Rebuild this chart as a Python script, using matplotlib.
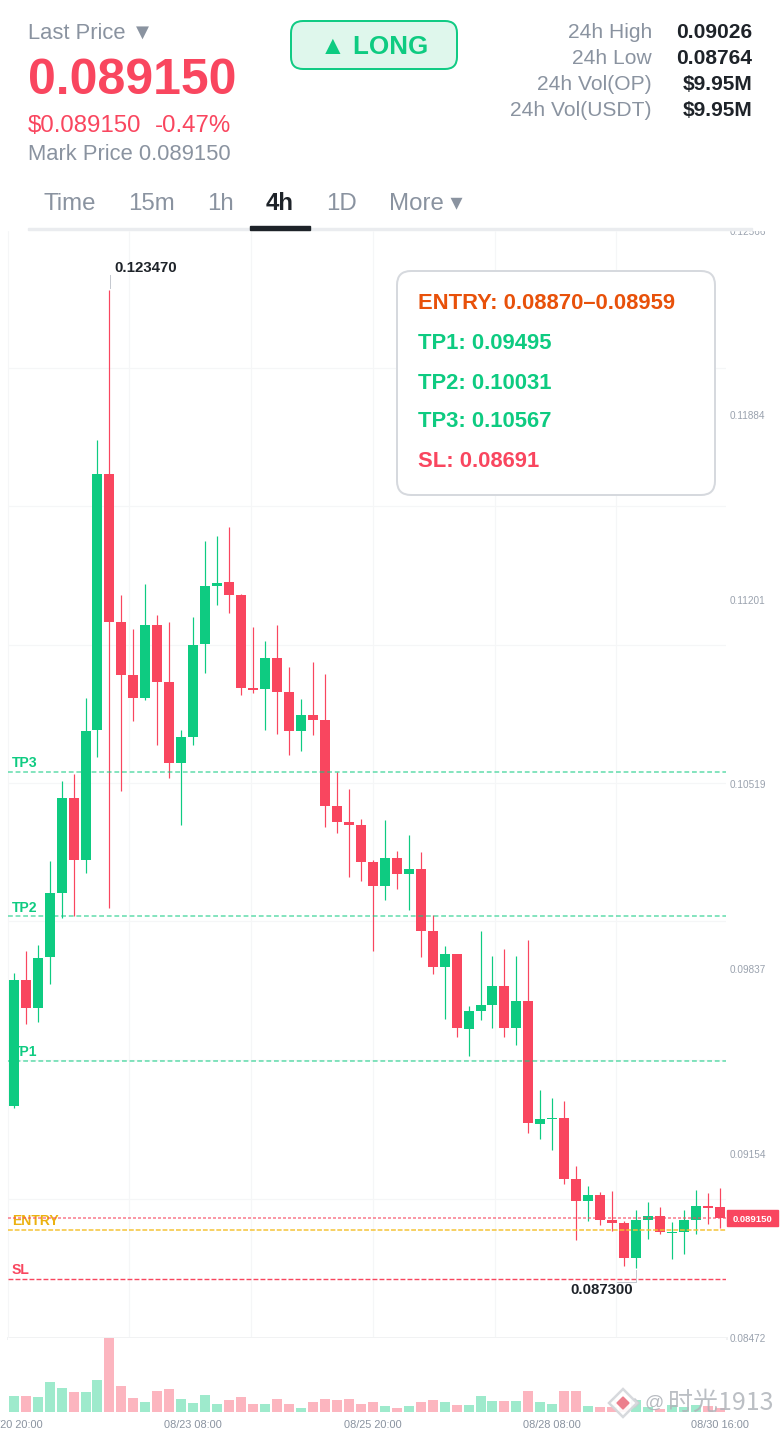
import matplotlib
matplotlib.use('Agg')
import matplotlib.pyplot as plt
from matplotlib.patches import FancyBboxPatch, Rectangle, Polygon
import numpy as np

plt.rcParams['font.family'] = ['Liberation Sans', 'Noto Sans CJK SC', 'DejaVu Sans']

# ohlc, one entry per 4h candle
opens = [0.093311, 0.097960, 0.096935, 0.098811, 0.101188, 0.104691, 0.102398, 0.107205, 0.116673, 0.111210,
         0.109240, 0.108400, 0.111088, 0.108981, 0.105986, 0.106935, 0.110385, 0.112531, 0.112679, 0.112198,
         0.108759, 0.108711, 0.109869, 0.108600, 0.107168, 0.107760, 0.107575, 0.104384, 0.103815, 0.103704,
         0.102335, 0.101447, 0.102461, 0.101891, 0.102054, 0.099760, 0.098441, 0.098922, 0.096158, 0.096813,
         0.097046, 0.097738, 0.096195, 0.097183, 0.092634, 0.092818, 0.092844, 0.090603, 0.089775, 0.090008,
         0.089084, 0.088973, 0.087690, 0.089084, 0.089243, 0.088603, 0.088651, 0.089095, 0.089590, 0.089564]
closes = [0.097960, 0.096935, 0.098785, 0.101188, 0.104691, 0.102398, 0.107168, 0.116673, 0.111210, 0.109240,
          0.108400, 0.111088, 0.108981, 0.105986, 0.106935, 0.110348, 0.112531, 0.112642, 0.112209, 0.108759,
          0.108703, 0.109869, 0.108600, 0.107168, 0.107760, 0.107575, 0.104384, 0.103815, 0.103704, 0.102335,
          0.101447, 0.102461, 0.101891, 0.102054, 0.099760, 0.098441, 0.098922, 0.096173, 0.096802, 0.097035,
          0.097738, 0.096195, 0.097183, 0.092660, 0.092808, 0.092844, 0.090614, 0.089775, 0.090008, 0.089084,
          0.088973, 0.087690, 0.089084, 0.089232, 0.088651, 0.088640, 0.089084, 0.089590, 0.089546, 0.089150]
highs = [0.098219, 0.099044, 0.099266, 0.102361, 0.105320, 0.105579, 0.108400, 0.117931, 0.123470, 0.112198,
         0.110951, 0.112616, 0.111458, 0.111210, 0.107205, 0.111395, 0.114195, 0.114381, 0.114714, 0.112235,
         0.111025, 0.110509, 0.111088, 0.109536, 0.108352, 0.109721, 0.109288, 0.105653, 0.105024, 0.103903,
         0.102398, 0.103889, 0.102731, 0.103309, 0.102705, 0.100363, 0.099218, 0.098922, 0.096998, 0.099760,
         0.098836, 0.099107, 0.098859, 0.099427, 0.093892, 0.093607, 0.093496, 0.091096, 0.090341, 0.090119,
         0.090156, 0.089036, 0.089443, 0.089749, 0.089553, 0.089010, 0.089454, 0.090193, 0.090079, 0.090267]
lows = [0.093226, 0.096343, 0.096406, 0.097812, 0.100252, 0.100326, 0.101917, 0.106219, 0.100622, 0.104961,
        0.107538, 0.108315, 0.106650, 0.105431, 0.103692, 0.106650, 0.109314, 0.111839, 0.111543, 0.108511,
        0.108585, 0.107205, 0.107067, 0.106293, 0.106415, 0.107030, 0.103618, 0.103396, 0.101776, 0.101632,
        0.099033, 0.100929, 0.101336, 0.100559, 0.098822, 0.098193, 0.096517, 0.095851, 0.095137, 0.096480,
        0.096195, 0.095862, 0.095566, 0.092301, 0.092069, 0.091674, 0.090425, 0.088346, 0.089061, 0.088888,
        0.088688, 0.087370, 0.087300, 0.088372, 0.088566, 0.087653, 0.087845, 0.088566, 0.088936, 0.088776]
volumes = [15.7, 16, 15, 29.7, 23.7, 20.3, 20, 32, 73.7, 26,
           14, 10, 21, 22.7, 12.7, 9, 17.3, 7.7, 12, 14.7,
           8, 8, 13.3, 8.3, 4.3, 9.7, 13, 11.7, 13.3, 7.7,
           10.3, 6.3, 3.7, 5.7, 10.3, 12, 9.7, 7, 7, 16,
           11, 10.7, 11, 20.7, 10.3, 8.3, 20.7, 21, 5.7, 4.7,
           5.3, 11, 12, 5, 3, 6.7, 5, 6.7, 6, 4]

price_ticks = [0.12566, 0.11884, 0.11201, 0.10519, 0.09837, 0.09154, 0.08472]
grid_prices = [0.120594, 0.115489, 0.110348, 0.105246, 0.100141, 0.095000, 0.089860]
date_idx = [0, 15, 30, 45, 59]
date_labels = ['08/20 20:00', '08/23 08:00', '08/25 20:00', '08/28 08:00', '08/30 16:00']
grid_idx = [9.67, 19.83, 30.0, 40.17, 50.33]

tp1, tp2, tp3 = 0.09495, 0.10031, 0.10567
entry_low = 0.08870
stop = 0.08691
last = 0.08915

stats_names = ['24h High', '24h Low', '24h Vol(OP)', '24h Vol(USDT)']
stats_values = ['0.09026', '0.08764', '$9.95M', '$9.95M']
tabs = ['Time', '15m', '1h', '4h', '1D', 'More ▾']

GREEN = '#0ECB81'
RED = '#F9465F'
GREY = '#8A93A0'
DARK = '#1E2329'
GRID = '#F5F6F7'

W, H = 780, 1430
fig = plt.figure(figsize=(W / 100, H / 100), dpi=100)


def px_axes(x0, y0, x1, y1):
    return fig.add_axes([x0 / W, 1 - y1 / H, (x1 - x0) / W, (y1 - y0) / H])


def pt(px):
    return px * 0.72


x = np.arange(len(opens))
up = np.array(closes) >= np.array(opens)
colors = [GREEN if u else RED for u in up]

# price pane
ax = px_axes(8, 231, 726, 1338)
ax.set_xlim(-0.476, 59.51)
ax.set_ylim(0.08472, 0.12566)
for s in ax.spines.values():
    s.set_visible(False)
ax.spines['left'].set_visible(True)
ax.spines['left'].set_color(GRID)
ax.hlines(grid_prices, -0.476, 59.51, color=GRID, lw=pt(1.2), zorder=0)
ax.vlines(grid_idx, 0.08472, 0.12566, color=GRID, lw=pt(1.2), zorder=0)
ax.axhline(0.08472, color='#F1F2F3', lw=pt(3), zorder=0, clip_on=False)

for lvl, name, c in [(tp3, 'TP3', GREEN), (tp2, 'TP2', GREEN), (tp1, 'TP1', GREEN),
                     (entry_low, 'ENTRY', '#EBB110'), (stop, 'SL', RED)]:
    ax.text(-0.15, lvl + 0.00033, name, color=c, fontsize=pt(14), fontweight='bold', va='center', zorder=1)

ax.vlines(x, lows, highs, color=colors, lw=pt(1.2), zorder=2)
bottoms = np.minimum(opens, closes)
heights = np.maximum(np.abs(np.array(closes) - np.array(opens)), 0.00004)
ax.bar(x, heights, bottom=bottoms, width=0.835, color=colors, linewidth=0, zorder=3)

for lvl in [tp1, tp2, tp3]:
    ax.axhline(lvl, color=GREEN, alpha=0.5, lw=pt(2), ls=(0, (2.4, 1.4)), zorder=4)
ax.axhline(entry_low, color='#F5C02C', lw=pt(1.6), alpha=0.9, ls=(0, (3, 1.2)), zorder=4)
ax.axhline(last, color=RED, alpha=0.55, lw=pt(2), ls=(0, (1.5, 1)), zorder=4)
ax.axhline(stop, color='#F9465F', lw=pt(1.4), ls=(0, (3.5, 1.5)), zorder=4)

ax.yaxis.tick_right()
ax.set_yticks(price_ticks)
ax.set_yticklabels(['%.5f' % p for p in price_ticks], fontsize=pt(10), color='#9AA2AE')
ax.tick_params(axis='y', length=0, pad=pt(4))
ax.set_xticks([])

# volume pane
vax = px_axes(8, 1338, 726, 1412)
vax.set_xlim(-0.476, 59.51)
vax.set_ylim(0, 74)
vax.bar(x, volumes, width=0.835, color=colors, alpha=0.4, linewidth=0)
for s in vax.spines.values():
    s.set_visible(False)
vax.set_yticks([])
vax.set_xticks(date_idx)
vax.set_xticklabels(date_labels, fontsize=pt(11), color=GREY)
vax.tick_params(axis='x', length=0, pad=pt(7.5))

# everything in screen pixels goes on this one
top = fig.add_axes([0, 0, 1, 1], zorder=5)
top.set_xlim(0, W)
top.set_ylim(H, 0)
top.axis('off')
top.add_patch(Rectangle((0, 0), W, 229.5, color='white', zorder=0))

top.text(28, 31, 'Last Price ▼', color=GREY, fontsize=pt(22), va='center_baseline')
top.text(28, 76, '0.089150', color=RED, fontsize=pt(50), fontweight='bold', va='center_baseline')
top.text(28, 124, '$0.089150', color=RED, fontsize=pt(24), va='center_baseline')
top.text(155, 124, '-0.47%', color=RED, fontsize=pt(24), va='center_baseline')
top.text(28, 152, 'Mark Price 0.089150', color=GREY, fontsize=pt(22), va='center_baseline')

top.add_patch(FancyBboxPatch((291, 21), 166, 48, boxstyle='round,pad=0,rounding_size=12',
                             facecolor='#DFF7EC', edgecolor='#12CB84', lw=pt(2)))
top.text(374, 45, '▲ LONG', color=GREEN, fontsize=pt(26), fontweight='bold', ha='center', va='center_baseline')

for i, yy in enumerate([31, 57, 83, 109]):
    top.text(652, yy, stats_names[i], color=GREY, fontsize=pt(21), ha='right', va='center_baseline')
    top.text(752, yy, stats_values[i], color=DARK, fontsize=pt(21), fontweight='bold', ha='right', va='center_baseline')

for label, xx in zip(tabs, [44, 128, 207, 266, 326, 389]):
    active = label == '4h'
    top.text(xx, 210.5, label, color=DARK if active else GREY, fontsize=pt(24),
             fontweight='bold' if active else 'normal', va='baseline')
top.add_patch(Rectangle((28, 228), 724, 2, color='#EAECEF'))
top.add_patch(Rectangle((250, 226), 60, 4, color=DARK))

# high/low markers
top.text(114, 266, '0.123470', color=DARK, fontsize=pt(15), fontweight='bold', va='center_baseline')
top.plot([110, 110], [275, 288], color='#C5C9D0', lw=pt(1))
top.text(570, 1289, '0.087300', color=DARK, fontsize=pt(15), fontweight='bold', va='center_baseline')
top.plot([636, 636, 617], [1270, 1282, 1282], color='#C5C9D0', lw=pt(1))

# last price tag
top.add_patch(Rectangle((727, 1210), 51, 16, color=RED))
top.text(752.5, 1219, '0.089150', color='white', fontsize=pt(9.5), fontweight='bold', ha='center', va='center_baseline')

# signal box
top.add_patch(FancyBboxPatch((397, 271), 318, 224, boxstyle='round,pad=0,rounding_size=14',
                             facecolor='white', edgecolor='#D6D9DE', lw=pt(2)))
top.text(418, 301, 'ENTRY: 0.08870–0.08959', color='#E8510A', fontsize=pt(22), fontweight='bold', va='center_baseline')
top.text(418, 341, 'TP1: 0.09495', color=GREEN, fontsize=pt(22), fontweight='bold', va='center_baseline')
top.text(418, 381, 'TP2: 0.10031', color=GREEN, fontsize=pt(22), fontweight='bold', va='center_baseline')
top.text(418, 419, 'TP3: 0.10567', color=GREEN, fontsize=pt(22), fontweight='bold', va='center_baseline')
top.text(418, 459, 'SL: 0.08691', color=RED, fontsize=pt(22), fontweight='bold', va='center_baseline')

# watermark
for cx, r in [(613, 4), (635, 4)]:
    top.add_patch(Polygon([(cx, 1403 - r), (cx + r, 1403), (cx, 1403 + r), (cx - r, 1403)], closed=True,
                          facecolor='white', edgecolor='#C9CCD1', lw=pt(1.5)))
top.add_patch(Polygon([(623, 1389), (637, 1403), (623, 1417), (609, 1403)], closed=True,
                      facecolor='white', edgecolor='#D3D6DA', lw=pt(2.5), alpha=0.9))
top.add_patch(Polygon([(623, 1397), (629, 1403), (623, 1409), (617, 1403)], closed=True, color='#EC7F8D'))
top.text(644, 1403, '@', color='#B0B4BA', fontsize=pt(19), va='center', alpha=0.9)
top.text(668, 1403, '时光1913', color='#B0B4BA', fontsize=pt(25), va='center', alpha=0.85,
         family=['Noto Sans CJK SC', 'DejaVu Sans'])

fig.savefig('out.png', dpi=100)
